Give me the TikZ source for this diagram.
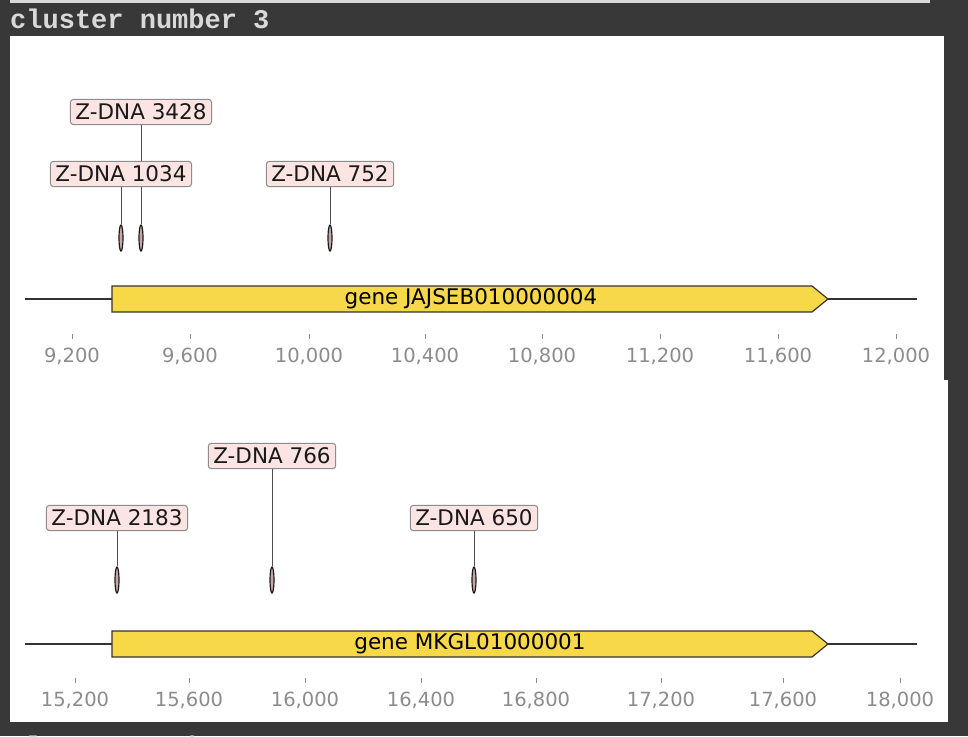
\documentclass[tikz,border=0pt]{standalone}
\usepackage{fontspec}
\usetikzlibrary{shapes.geometric}
\setmainfont{DejaVu Sans}
\newfontfamily\titlefont{Liberation Mono}
\definecolor{bgdark}{HTML}{383838}
\definecolor{genefill}{HTML}{F7D849}
\definecolor{lblfill}{HTML}{FBE4E2}
\definecolor{feat}{HTML}{C9A6A3}
\begin{document}
\begin{tikzpicture}[x=1pt,y=-1pt,
  lbl/.style={draw=black!45,fill=lblfill,rounded corners=3pt,inner xsep=5pt,inner ysep=4.5pt,font=\fontsize{21.5}{21.5}\selectfont,text=black!90,line width=1pt},
  tick/.style={text=black!45,font=\fontsize{19.5}{20}\selectfont},
  tickmark/.style={draw=black!45,line width=0.8pt},
  gene/.style={draw=black!80,fill=genefill,line width=1.2pt},
  axisline/.style={draw=black!80,line width=1.8pt},
  stem/.style={draw=black!70,line width=0.9pt},
  featsh/.style={ellipse,draw=black!90,fill=feat,line width=1.2pt,minimum width=4pt,minimum height=26pt,inner sep=0pt}]
\useasboundingbox (0,0) rectangle (968,736);
\clip (0,0) rectangle (968,736);
\fill[bgdark] (0,0) rectangle (968,736);
\fill[white!85!black] (10,0) rectangle (930,3);
\fill[white] (10,36) rectangle (944,380);
\fill[white] (10,380) rectangle (948,722);
\node[anchor=west,text=white!85!black,font=\titlefont\bfseries\fontsize{27}{27}\selectfont,inner sep=0pt] (t1) at (10,19) {cluster number 3};
\node[anchor=west,text=white!85!black,font=\titlefont\bfseries\fontsize{27}{27}\selectfont,inner sep=0pt] (t2) at (10,746) {cluster number 4};
% ---------- panel 1
\coordinate (a1) at (25,299); \coordinate (b1) at (917,299);
\draw[axisline] (a1) -- (b1);
\draw[gene] (112,286) -- (812,286) -- (828,299) -- (812,312) -- (112,312) -- cycle;
\node[font=\fontsize{21.5}{21.5}\selectfont] (g1) at (471,299) {gene JAJSEB010000004};
\foreach \x/\t in {72/{9,200},190/{9,600},309/{10,000},425/{10,400},542/{10,800},660/{11,200},778/{11,600},896/{12,000}}{
  \draw[tickmark] (\x,334) -- (\x,339);
  \node[tick] at (\x,356) {\t};}
\node[featsh] (f1) at (121,238) {};
\node[featsh] (f2) at (141,238) {};
\node[featsh] (f3) at (330,238) {};
\node[lbl] (l2) at (141,112) {Z-DNA 3428};
\node[lbl] (l1) at (121,174) {Z-DNA 1034};
\node[lbl] (l3) at (330,174) {Z-DNA 752};
\draw[stem] (f1.north) -- (f1.north|-l1.south);
\draw[stem] (f2.north) -- (f2.north|-l1.south);
\draw[stem] (l1.north-|l2.south) -- (l2.south);
\draw[stem] (f3.north) -- (l3.south);
% ---------- panel 2
\coordinate (a2) at (25,644); \coordinate (b2) at (917,644);
\draw[axisline] (a2) -- (b2);
\draw[gene] (112,631) -- (812,631) -- (828,644) -- (812,657) -- (112,657) -- cycle;
\node[font=\fontsize{21.5}{21.5}\selectfont] (g2) at (470,644) {gene MKGL01000001};
\foreach \x/\t in {75/{15,200},189/{15,600},305/{16,000},421/{16,400},536/{16,800},661/{17,200},783/{17,600},900/{18,000}}{
  \draw[tickmark] (\x,678) -- (\x,683);
  \node[tick] at (\x,700) {\t};}
\node[featsh] (f4) at (117,580) {};
\node[featsh] (f5) at (272,580) {};
\node[featsh] (f6) at (474,580) {};
\node[lbl] (l4) at (117,518) {Z-DNA 2183};
\node[lbl] (l5) at (272,456) {Z-DNA 766};
\node[lbl] (l6) at (474,518) {Z-DNA 650};
\draw[stem] (f4.north) -- (l4.south);
\draw[stem] (f5.north) -- (l5.south);
\draw[stem] (f6.north) -- (l6.south);
\end{tikzpicture}
\end{document}
